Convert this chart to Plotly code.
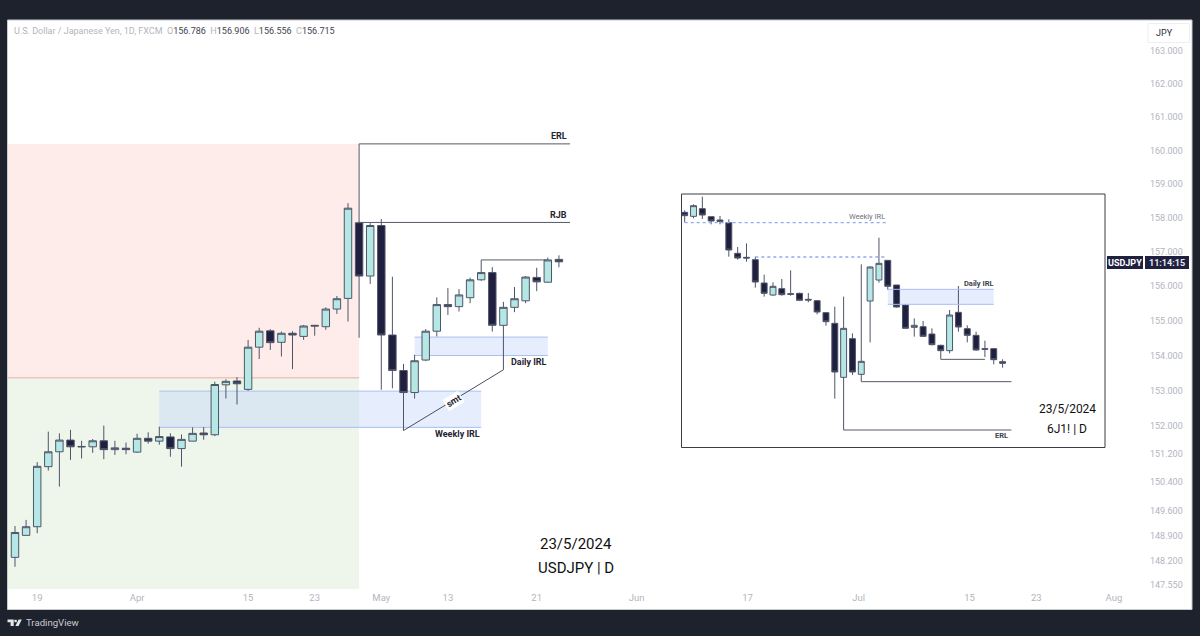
import numpy as np
import plotly.graph_objects as go

# ---- USDJPY daily bars ----
usd_open = [148.31,148.92,149.16,150.84,151.26,151.59,151.41,151.40,151.57,151.32,151.36,151.25,151.64,151.56,151.68,151.35,151.56,151.79,151.74,153.16,153.27,153.03,154.24,154.71,154.38,154.64,154.55,154.87,154.83,155.34,155.65,157.86,156.30,157.78,154.59,153.57,152.94,153.87,154.70,155.47,155.41,155.67,156.19,156.40,154.87,155.39,155.58,156.26,156.12,156.786]
usd_high = [149.18,149.35,150.97,151.83,151.78,151.88,151.57,151.62,152.00,151.57,151.52,151.77,151.81,151.97,151.78,151.75,151.95,151.96,153.25,153.32,153.38,154.45,154.80,154.76,154.69,154.70,154.88,154.88,155.39,155.72,158.44,157.89,157.85,157.97,156.28,153.76,154.02,154.76,155.68,155.95,155.92,156.25,156.77,156.56,155.55,155.98,156.30,156.54,156.84,156.906]
usd_low = [148.05,148.92,148.98,150.73,150.28,151.03,151.07,151.23,151.05,151.17,151.19,151.23,151.49,151.46,151.12,150.84,151.56,151.60,151.70,152.77,152.60,152.99,153.90,154.16,153.97,153.61,154.45,154.57,154.74,155.20,154.98,154.51,156.07,153.02,153.06,151.86,152.77,153.84,154.55,155.17,155.27,155.51,156.16,154.69,153.59,155.25,155.51,155.86,156.11,156.556]
usd_close = [149.00,149.16,150.85,151.26,151.59,151.40,151.40,151.57,151.32,151.37,151.32,151.64,151.56,151.69,151.35,151.61,151.78,151.74,153.17,153.26,153.19,154.24,154.70,154.37,154.64,154.59,154.85,154.85,155.34,155.64,158.29,156.30,157.78,154.59,153.57,152.94,153.85,154.70,155.47,155.41,155.75,156.19,156.40,154.87,155.39,155.64,156.27,156.13,156.77,156.715]
usd_bars = list(range(len(usd_open)))

# ---- 6J1! daily bars (x1000) ----
fut_open = [6.918,6.906,6.929,6.905,6.895,6.887,6.795,6.783,6.776,6.706,6.670,6.689,6.674,6.675,6.657,6.653,6.617,6.585,6.423,6.539,6.432,6.652,6.715,6.774,6.700,6.640,6.573,6.575,6.553,6.519,6.503,6.618,6.569,6.549,6.509,6.509,6.470]
fut_high = [6.924,6.942,6.965,6.905,6.907,6.897,6.814,6.825,6.785,6.731,6.708,6.718,6.744,6.677,6.676,6.655,6.619,6.635,6.665,6.555,6.762,6.756,6.842,6.774,6.700,6.643,6.600,6.592,6.570,6.521,6.625,6.697,6.579,6.560,6.533,6.510,6.477]
fut_low = [6.888,6.900,6.898,6.882,6.882,6.785,6.776,6.770,6.692,6.665,6.668,6.668,6.668,6.652,6.648,6.612,6.578,6.359,6.265,6.430,6.410,6.528,6.707,6.686,6.632,6.569,6.545,6.544,6.519,6.477,6.495,6.560,6.528,6.503,6.484,6.462,6.452]
fut_close = [6.908,6.938,6.910,6.892,6.891,6.805,6.781,6.781,6.709,6.675,6.696,6.671,6.672,6.654,6.655,6.619,6.590,6.439,6.570,6.439,6.471,6.754,6.765,6.696,6.634,6.570,6.579,6.546,6.521,6.503,6.610,6.574,6.549,6.505,6.507,6.476,6.465]
fut_bars = list(range(len(fut_open)))

# ---- axis labels ----
price_ticks = [163,162,161,160,159,158,157,156,155,154,153,152,151.2,150.4,149.6,148.9,148.2,147.55]
time_tick_bars = [2,11,21,27,33,39,47,56,66,76,86,92,99]
time_tick_text = ["19","Apr","15","23","May","13","21","Jun","17","Jul","15","23","Aug"]

W, H = 1200, 636
def px(x): return x / W
def py(y): return 1 - y / H

DARK = "#1E222D"
UP_FILL = "#B5E8E5"
DOWN_FILL = "#1F2040"
WICK = "#4F5568"
ZONE = "rgba(190,208,250,0.38)"
ZONE_EDGE = "#A9BFF2"
LINE = "#555A66"
INK = "#1F2430"
FONT = "Roboto"
LABEL = "#B2B5BE"

fig = go.Figure()
fig.add_trace(go.Candlestick(
    x=usd_bars, open=usd_open, high=usd_high, low=usd_low, close=usd_close,
    increasing=dict(fillcolor=UP_FILL, line=dict(color=WICK, width=1)),
    decreasing=dict(fillcolor=DOWN_FILL, line=dict(color=WICK, width=1)),
    whiskerwidth=0, xaxis="x", yaxis="y", showlegend=False, hoverinfo="skip"))
fig.add_trace(go.Candlestick(
    x=fut_bars, open=fut_open, high=fut_high, low=fut_low, close=fut_close,
    increasing=dict(fillcolor=UP_FILL, line=dict(color=WICK, width=1)),
    decreasing=dict(fillcolor=DOWN_FILL, line=dict(color=WICK, width=1)),
    whiskerwidth=0, xaxis="x2", yaxis="y2", showlegend=False, hoverinfo="skip"))

shapes = []
# frame
shapes.append(dict(type="rect", xref="paper", yref="paper", x0=px(7.5), x1=px(1192), y0=py(609.5), y1=py(20),
                   fillcolor="white", line=dict(color="#C8CAD0", width=1), layer="below"))

# main-chart zones (price coordinates)
def main_rect(x0, x1, p0, p1, fill, edge=None):
    shapes.append(dict(type="rect", xref="x", yref="y", x0=x0, x1=x1, y0=p0, y1=p1,
                       fillcolor=fill, line=dict(width=0), layer="below"))
    if edge:
        for p in (p0, p1):
            shapes.append(dict(type="line", xref="x", yref="y", x0=x0, x1=x1, y0=p, y1=p,
                               line=dict(color=edge, width=1), layer="below"))

def main_line(x0, p0, x1, p1, color=LINE, width=1):
    shapes.append(dict(type="line", xref="x", yref="y", x0=x0, x1=x1, y0=p0, y1=p1,
                       line=dict(color=color, width=width), layer="above"))

LEFT_BAR, RIGHT_BAR = -0.63, 102.16
main_rect(LEFT_BAR, 31, 153.36, 160.2, "#FEECEB")
main_rect(LEFT_BAR, 31, 147.44, 153.36, "#EEF6EC")
shapes.append(dict(type="line", xref="x", yref="y", x0=LEFT_BAR, x1=31, y0=153.36, y1=153.36,
                   line=dict(color="#F2AAA2", width=1), layer="below"))
main_rect(13, 42, 151.95, 152.98, ZONE, ZONE_EDGE)
main_rect(36, 48, 154.0, 154.53, ZONE, ZONE_EDGE)

main_line(31, 160.2, 50, 160.2)
main_line(31, 160.2, 31, 157.86)
main_line(31, 157.87, 50, 157.87)
main_line(42, 156.77, 47.9, 156.77)
main_line(35, 151.86, 44, 153.59, color="#4A4F5C")

# inset
shapes.append(dict(type="rect", xref="paper", yref="paper", x0=px(681.5), x1=px(1105), y0=py(447.5), y1=py(194),
                   fillcolor="rgba(0,0,0,0)", line=dict(color="#3A3D45", width=1), layer="above"))

def inset_line(j0, v0, j1, v1, color=LINE, dash="solid", width=1):
    shapes.append(dict(type="line", xref="x2", yref="y2", x0=j0, x1=j1, y0=v0, y1=v1,
                       line=dict(color=color, width=width, dash=dash), layer="above"))

shapes.append(dict(type="rect", xref="x2", yref="y2", x0=23, x1=35, y0=6.642, y1=6.687,
                   fillcolor=ZONE, line=dict(width=0), layer="below"))
inset_line(23, 6.642, 35, 6.642, color=ZONE_EDGE)
inset_line(23, 6.687, 35, 6.687, color=ZONE_EDGE)
inset_line(0, 6.887, 23, 6.887, color="#8FAAF0", dash="3px,3px", width=1.4)
inset_line(8, 6.784, 22.7, 6.784, color="#8FAAF0", dash="3px,3px", width=1.4)
inset_line(20, 6.410, 37, 6.410)
inset_line(18, 6.265, 37, 6.265)
inset_line(29, 6.477, 34, 6.477)

# TradingView mark
def pth(points):
    return "M" + " L".join(f"{px(a):.5f},{py(b):.5f}" for a, b in points) + " Z"
for poly in ([(7.5,619.5),(13.7,619.5),(13.7,626),(10.6,626),(10.6,622.2),(7.5,622.2)],
             [(18.6,619.5),(21.8,619.5),(18.6,626),(15.4,626)],
             [(14.4,619.8),(16.8,619.8),(16.8,622.2),(14.4,622.2)]):
    shapes.append(dict(type="path", xref="paper", yref="paper", path=pth(poly),
                       fillcolor="#E6E7EA", line=dict(width=0), layer="above"))
# JPY button
shapes.append(dict(type="rect", xref="paper", yref="paper", x0=px(1148), x1=px(1189.5), y0=py(42.5), y1=py(23.5),
                   fillcolor="white", line=dict(color="#ECEEF2", width=1), layer="above"))
# last-price badges
for a, b in ((1107, 1143), (1145, 1189)):
    shapes.append(dict(type="rect", xref="paper", yref="paper", x0=px(a), x1=px(b), y0=py(269), y1=py(256),
                       fillcolor=DOWN_FILL, line=dict(width=0), layer="above"))

annotations = []
def main_text(text, bar, price, size=9.5, color=INK, **kw):
    annotations.append(dict(text=text, x=bar, y=np.log10(price), xref="x", yref="y", showarrow=False,
                            font=dict(family=FONT, size=size, color=color), **kw))
def inset_text(text, bar, v, size=9.5, color=INK, **kw):
    annotations.append(dict(text=text, x=bar, y=v, xref="x2", yref="y2", showarrow=False,
                            font=dict(family=FONT, size=size, color=color), **kw))
def page_text(text, x, y, size, color, xanchor="center", **kw):
    annotations.append(dict(text=text, x=px(x), y=py(y), xref="paper", yref="paper", showarrow=False,
                            xanchor=xanchor, yanchor="middle",
                            font=dict(family=FONT, size=size, color=color), **kw))

main_text("<b>ERL</b>", 49, 160.44, size=9)
main_text("<b>RJB</b>", 49, 158.09, size=9)
main_text("<b>Daily IRL</b>", 46.3, 153.81, size=9)
main_text("<b>Weekly IRL</b>", 39.9, 151.76, size=9)
main_text("<b>smt</b>", 39.5, 152.70, size=9, textangle=-31, bgcolor="white", borderpad=1)
main_text("23/5/2024", 50.5, 148.68, size=15, color="#111111")
main_text("USDJPY | D", 50.5, 148.02, size=15, color="#111111")

inset_text("Weekly IRL", 20.7, 6.906, size=7.5, color="#6E727C")
inset_text("<b>Daily IRL</b>", 33.3, 6.706, size=7.5, color="#40444E")
inset_text("<b>ERL</b>", 35.9, 6.248, size=7.5, color="#40444E")
inset_text("23/5/2024", 43.3, 6.329, size=12, color="#111111")
inset_text("6J1! | D", 43.3, 6.267, size=12, color="#111111")

G = "color:#B2B5BE"
K = "color:#3E4350"
page_text(f'<span style="{G}">U.S. Dollar / Japanese Yen, 1D, FXCM  O</span><span style="{K}">156.786</span>'
          f'<span style="{G}">  H</span><span style="{K}">156.906</span>'
          f'<span style="{G}">  L</span><span style="{K}">156.556</span>'
          f'<span style="{G}">  C</span><span style="{K}">156.715</span>',
          12, 31, 9, LABEL, xanchor="left")
page_text("JPY", 1164, 33, 9, "#2A2E39")
page_text("<b>USDJPY</b>", 1125, 262.5, 9, "white")
page_text("<b>11:14:15</b>", 1167, 262.5, 9, "#E8E8F0")
page_text("TradingView", 23.5, 622.5, 9.6, "#C9CBD1", xanchor="left")

PRICE_BOTTOM, PRICE_TOP = 147.41, 163.945

fig.update_layout(
    width=W, height=H, autosize=False,
    margin=dict(l=0, r=0, t=0, b=0),
    paper_bgcolor=DARK, plot_bgcolor="white",
    boxgap=0.33, boxgroupgap=0,
    showlegend=False,
    shapes=shapes, annotations=annotations,
    font=dict(family=FONT),
    xaxis=dict(domain=[px(8), px(1149)], range=[LEFT_BAR, RIGHT_BAR], anchor="y", showgrid=False, zeroline=False,
               tickmode="array", tickvals=time_tick_bars, ticktext=time_tick_text, ticks="",
               rangeslider=dict(visible=False), showline=False,
               tickfont=dict(family=FONT, size=9.5, color=LABEL)),
    yaxis=dict(domain=[py(590), py(20)], type="log", range=[np.log10(PRICE_BOTTOM), np.log10(PRICE_TOP)],
               anchor="x", side="right", showgrid=False, zeroline=False, showline=False, ticks="",
               tickmode="array", tickvals=price_ticks, ticktext=[f"{p:.3f}" for p in price_ticks],
               tickfont=dict(family=FONT, size=9, color=LABEL)),
    xaxis2=dict(domain=[px(681), px(1105)], range=[-0.416, 47.6], anchor="y2", visible=False,
                rangeslider=dict(visible=False)),
    yaxis2=dict(domain=[py(448), py(194)], range=[6.211, 6.973], anchor="x2", visible=False),
)

fig.write_html("out.html", config=dict(displayModeBar=False),
               post_script="document.body.style.margin='0';document.body.style.overflow='hidden';")
